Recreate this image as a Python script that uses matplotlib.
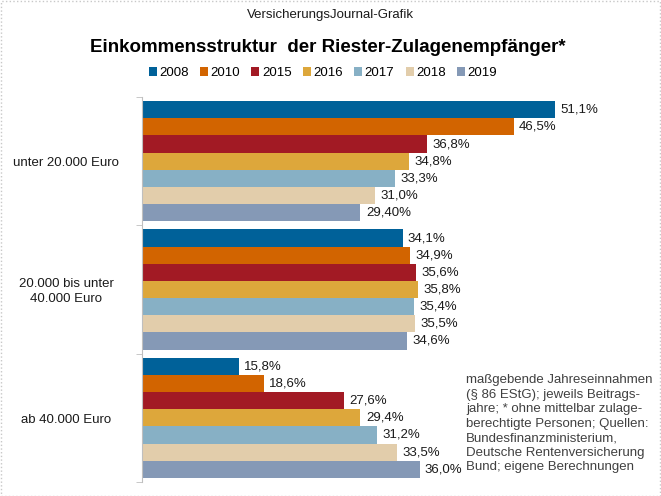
import matplotlib.pyplot as plt
from matplotlib.patches import Rectangle
import numpy as np

plt.rcParams['font.family'] = ['Liberation Sans', 'DejaVu Sans']

categories = ['unter 20.000 Euro', '20.000 bis unter\n40.000 Euro', 'ab 40.000 Euro']
years = ['2008', '2010', '2015', '2016', '2017', '2018', '2019']
values = {
    '2008': [51.1, 34.1, 15.8],
    '2010': [46.5, 34.9, 18.6],
    '2015': [36.8, 35.6, 27.6],
    '2016': [34.8, 35.8, 29.4],
    '2017': [33.3, 35.4, 31.2],
    '2018': [31.0, 35.5, 33.5],
    '2019': [29.4, 34.6, 36.0],
}
labels = {
    '2008': ['51,1%', '34,1%', '15,8%'],
    '2010': ['46,5%', '34,9%', '18,6%'],
    '2015': ['36,8%', '35,6%', '27,6%'],
    '2016': ['34,8%', '35,8%', '29,4%'],
    '2017': ['33,3%', '35,4%', '31,2%'],
    '2018': ['31,0%', '35,5%', '33,5%'],
    '2019': ['29,40%', '34,6%', '36,0%'],
}
colors = ['#006199', '#D26400', '#A21A24', '#DDA73B', '#87B0C5', '#E2CDAB', '#8599B6']

note = ("maßgebende Jahreseinnahmen\n(§ 86 EStG); jeweils Beitrags-\n"
        "jahre; * ohne mittelbar zulage-\nberechtigte Personen; Quellen:\n"
        "Bundesfinanzministerium,\nDeutsche Rentenversicherung\n"
        "Bund; eigene Berechnungen")

fig = plt.figure(figsize=(6.61, 4.96), dpi=100)
ax = fig.add_axes([142/661, 1-482/496, 0.745, (482-97)/496])

xmin = 5
h = 0.1336
y = np.arange(len(categories))
for i, yr in enumerate(years):
    pos = y - 3.5*h + (i + 0.5)*h
    ax.barh(pos, np.array(values[yr]) - xmin, left=xmin, height=h,
            color=colors[i], label=yr)
    for p, v, t in zip(pos, values[yr], labels[yr]):
        ax.text(v + 0.6, p, t, va='center', ha='left', fontsize=9.5, color='#1a1a1a')

ax.set_xlim(xmin, 60)
ax.set_ylim(2.5, -0.5)
ax.set_xticks([])
ax.set_yticks([])
ax.set_yticks([-0.5, 0.5, 1.5, 2.5], minor=True)
ax.tick_params(axis='y', which='minor', length=4, color='#bfbfbf', labelleft=False)
for s in ['top', 'right', 'bottom']:
    ax.spines[s].set_visible(False)
ax.spines['left'].set_color('#bfbfbf')

for yy, c in zip(y, categories):
    fig.text(66/661, ax.transData.transform((0, yy))[1] / 496 - 0.004, c, ha='center',
             va='center', fontsize=9.5, color='#1a1a1a', multialignment='center',
             linespacing=1.35)

fig.text(0.5, 1-15/496, 'VersicherungsJournal-Grafik', ha='center', va='center',
         fontsize=9.5, color='#1a1a1a')
fig.text(328/661, 1-47/496, 'Einkommensstruktur  der Riester-Zulagenempfänger*',
         ha='center', va='center', fontsize=13.5, fontweight='bold', color='black')
fig.legend(loc='center', bbox_to_anchor=(323/661, 1-73/496), ncol=7, frameon=False,
           fontsize=9.5, handlelength=0.6, handleheight=0.6, handletextpad=0.2,
           columnspacing=0.85, borderpad=0)
fig.text(466/661, 1-374/496, note, ha='left', va='top', fontsize=9.5,
         color='#404040', linespacing=1.28)

fig.add_artist(Rectangle((0.001, 0.001), 0.997, 0.997, transform=fig.transFigure,
                         fill=False, edgecolor='#c8c8c8', linestyle=':', linewidth=1))

fig.savefig('out.png', dpi=100)
